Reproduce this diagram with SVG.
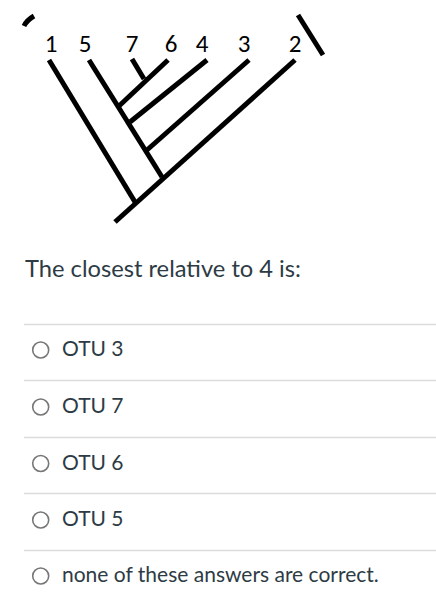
<svg xmlns="http://www.w3.org/2000/svg" width="436" height="616" viewBox="0 0 436 616">
<style>
.br{stroke:#000;stroke-width:5;stroke-linecap:butt;fill:none}
.lbl{font-family:Calibri,Carlito,"Liberation Sans",sans-serif;font-size:25px;fill:#000;text-anchor:middle}
.q{font-family:Lato,"Liberation Sans",sans-serif;font-size:23.7px;fill:#2d3b45}
.opt{font-family:Lato,"Liberation Sans",sans-serif;font-size:21px;fill:#2d3b45}
.sep{stroke:#dcdcdc;stroke-width:1.5}
.rad{fill:#fff;stroke:#777;stroke-width:1.6}
</style>
<rect width="436" height="616" fill="#fff"/>
<g id="tree">
<g id="connectors">
<line class="br" x1="115" y1="222" x2="295" y2="60"/>
<line class="br" x1="49" y1="60" x2="135" y2="202"/>
<line class="br" x1="89" y1="60" x2="162" y2="177"/>
<line class="br" x1="249" y1="60" x2="147" y2="150"/>
<line class="br" x1="207" y1="60" x2="130" y2="122"/>
<line class="br" x1="168" y1="60" x2="119" y2="106"/>
<line class="br" x1="132" y1="59" x2="144" y2="79"/>
<path class="br" d="M24,26 Q27,20 34,16"/>
<line class="br" x1="298" y1="15" x2="323" y2="55"/>
</g>
<g id="labels">
<text class="lbl" x="51" y="52">1</text>
<text class="lbl" x="85" y="52">5</text>
<text class="lbl" x="132" y="52">7</text>
<text class="lbl" x="171" y="52">6</text>
<text class="lbl" x="202" y="52">4</text>
<text class="lbl" x="244" y="52">3</text>
<text class="lbl" x="295" y="52">2</text>
</g>
</g>
<text class="q" x="25" y="277">The closest relative to 4 is:</text>
<line class="sep" x1="24" y1="324.5" x2="436" y2="324.5"/>
<line class="sep" x1="24" y1="380.5" x2="436" y2="380.5"/>
<line class="sep" x1="24" y1="437.5" x2="436" y2="437.5"/>
<line class="sep" x1="24" y1="493.5" x2="436" y2="493.5"/>
<line class="sep" x1="24" y1="550.5" x2="436" y2="550.5"/>
<g id="opt1"><circle class="rad" cx="40.7" cy="350" r="8"/><text class="opt" x="62" y="356">OTU 3</text></g>
<g id="opt2"><circle class="rad" cx="40.7" cy="407" r="8"/><text class="opt" x="62" y="413">OTU 7</text></g>
<g id="opt3"><circle class="rad" cx="40.7" cy="463.5" r="8"/><text class="opt" x="62" y="469.5">OTU 6</text></g>
<g id="opt4"><circle class="rad" cx="40.7" cy="520" r="8"/><text class="opt" x="62" y="526">OTU 5</text></g>
<g id="opt5"><circle class="rad" cx="40.7" cy="576" r="8"/><text class="opt" x="62" y="582">none of these answers are correct.</text></g>
</svg>
